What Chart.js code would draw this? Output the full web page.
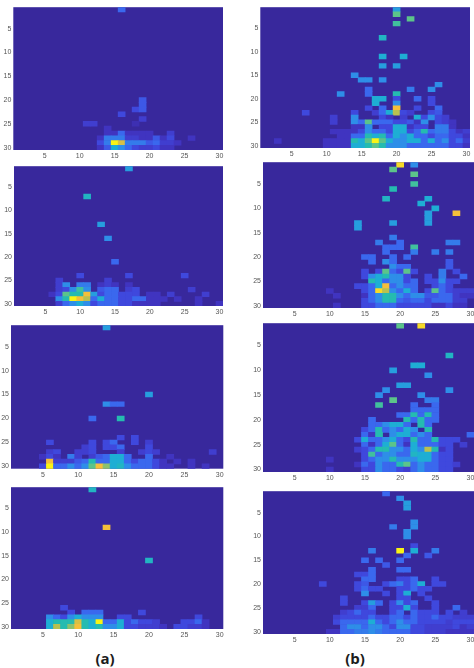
<!DOCTYPE html>
<html>
<head>
<meta charset="utf-8">
<style>
	html, body { margin: 0; padding: 0; background: #fff; width: 474px; height: 668px; overflow: hidden; }
	canvas { position: absolute; filter: blur(0.4px); }
	.caption { position: absolute; top: 648px; width: 40px; text-align: center; font: bold 15px "Open Sans", sans-serif; color: #1c1c1c; }
</style>
<script src="https://cdn.jsdelivr.net/npm/chart.js@4/dist/chart.umd.min.js"></script>
</head>
<body>
<div class="caption" style="left:85px">(a)</div>
<div class="caption" style="left:335px">(b)</div>
<script>
// each entry: [row, first column, values going right], 0 = background
var cellsA1 = [
	[1,16,[3]],[20,19,[2.5]],[21,19,[2.5]],[22,18,[2,2.5]],[23,16,[2]],[24,19,[1.5]],[25,11,[1.5,1.5]],[25,18,[0.6]],
	[26,14,[1]],[27,14,[1,1,3,1,1,1,1]],[27,23,[1.5]],
	[28,13,[1,3.5,3.5,3.5,1.5,1.5,1,1,2.5,1,2]],[28,26,[1]],
	[29,13,[2,3.5,10,8.5,3.5,3.5,3.5,2.5,3,1.5,1.5,1]],
	[30,13,[1,2.5,5,4,3,2,1.5,1.5,2,1,1]]
];
var cellsB1 = [
	[1,20,[4.5]],[2,20,[7]],[3,22,[7]],[4,20,[6.5]],[7,18,[5.5]],[11,18,[5]],[11,21,[5]],[13,18,[4.5]],[13,20,[4.5]],
	[15,14,[4]],[16,15,[4,4]],[16,18,[4]],[17,26,[4]],[18,16,[3]],[18,22,[3.5]],[18,25,[4]],
	[19,12,[4]],[19,16,[3]],[19,20,[6]],[20,17,[5,5]],[20,20,[2]],[20,23,[3]],[20,25,[2]],
	[21,17,[5]],[21,20,[4]],[21,25,[2]],[22,16,[2]],[22,18,[3]],[22,20,[9]],[22,23,[2]],[22,26,[3]],
	[23,7,[2]],[23,14,[2]],[23,17,[1.5,3,5,8,2,1.5]],[23,25,[2,2.5]],
	[24,11,[1.5]],[24,14,[4]],[24,18,[2,1]],[24,21,[1.5]],[24,23,[5,2,4,2,1.5]],
	[25,11,[1.5]],[25,14,[4,3,7,3,3,3,2,2,2.5,1,4]],[25,26,[2,1.5,1]],
	[26,14,[1,1,4,0,2,2,5,5,1,2,2,0,3.5,3.5,1]],
	[27,11,[1,1,1,1,2,4,3,3,2,5,5,2,3,6,3,3.5,3.5,2,1,1.5]],
	[28,12,[1,1,3,3,6,5,6,3,5,4,5,3,3,2,3,3,2,2,1]],
	[29,3,[1]],[29,10,[1,1,1,1,6,5,7,10,7,5,4,4,5,5,3,5,3,4,2,3,1.5]],
	[30,10,[1,1,1,1,5,5,6,7,6,4,4,4,3,3,3,3,3,3,2,2,1]]
];
var cellsA2 = [
	[1,17,[4.5]],[7,11,[5.5]],[13,13,[4.5]],[16,14,[4]],[21,15,[3]],[24,10,[2]],[24,17,[2]],[24,25,[2]],
	[25,7,[1.5]],[25,14,[1.5]],[26,7,[1.5,4,0,3.5,3.5,0,1,1.5,1,0,1]],
	[27,7,[1.5,2,4,6.5,4,0,2.5,3,3,0,1.5,2]],[27,26,[1.5]],
	[28,6,[1,2,7,6,6,9,4.5,2,3,3,2,2,2]],[28,20,[1,1]],[28,23,[1.5]],[28,28,[1.5]],
	[29,7,[4,6,10,9,8,3,5,3,3,2,2,3,3,1,1,1]],[29,24,[1]],[29,27,[1]],
	[30,7,[1.5,3,4,5,4,2,3,3,3,2,2,1,1,1,1]],[30,27,[1]],[30,30,[1]]
];
var cellsB2 = [
	[1,20,[9.5]],[1,22,[4]],[2,19,[7]],[3,22,[7]],[5,22,[6.5]],[6,19,[6]],[8,18,[5.5]],[8,24,[5]],[9,23,[5]],[10,25,[5]],
	[11,24,[4.5]],[11,28,[9]],[12,24,[4.5]],[13,14,[4.5]],[13,19,[4.5]],[13,24,[4.5]],[14,14,[4.5]],[16,19,[3.5]],
	[17,17,[3.5]],[17,20,[3]],[17,27,[3.5,3.5]],[18,18,[3,3,3]],[18,22,[6.5]],[19,18,[3]],[19,22,[3.5]],[19,25,[3.5]],[19,27,[3.5]],
	[20,15,[3,3]],[20,19,[3]],[20,21,[3]],[21,16,[3]],[21,18,[4,3]],[21,27,[2.5]],[22,19,[4,3,3]],[22,27,[2.5]],
	[23,15,[2,0,2,7,3,2,7,2]],[23,26,[3.5]],[23,28,[2]],
	[24,15,[2,4,5,6,4,4,2]],[24,24,[2,0,3.5]],[24,29,[3]],
	[25,16,[6,5,3,4,4,2,3,0,2,2,4,2,2]],
	[26,14,[2,2,3,5,9,3,4,3,3,0,0,2,3,2]],
	[27,10,[1]],[27,15,[2,3,9.5,8,4,3,5,3,0,2,7,3,2,1.5,1.5,1.5]],
	[28,11,[1]],[28,15,[1,3,4,6,6,4,3,4,4,2.5,2.5,3,3,1.5,1,1]],
	[29,15,[2,3,4,6,6,3,2.5,3,3,2,3,3,3,1.5,1.5]],
	[30,11,[1]],[30,15,[2,2,3,3,3,2,2,2,2,2,1,1,2,1,1]]
];
var cellsA3 = [
	[1,14,[4.5]],[15,20,[4.5]],[17,14,[4,3,3]],[20,12,[3]],[20,16,[6]],[24,16,[2]],[24,18,[2]],
	[25,6,[2]],[25,12,[2]],[25,14,[2,3]],[25,18,[2]],[25,20,[1.5]],
	[26,11,[1.5,2]],[26,14,[2,2,3]],[26,20,[2]],
	[27,6,[1.5,2]],[27,10,[1.5,1.5,2]],[27,16,[1.5]],[27,19,[1.5,2,1.5]],[27,29,[1.5]],
	[28,5,[1,2,1,0,3.5,1.5,0,1.5,2.5,3,5,5,3]],[28,20,[3]],[28,23,[1]],
	[29,6,[9,1.5,1.5,1.5,2.5,3,6,3,3,5,5,3,2,3,3,2,1]],[29,24,[1]],[29,26,[1]],
	[30,5,[2,10,3,3,4,3,4,7,9,7.5,5,5.5,4,3,3,3,2,1,1]],[30,26,[1]],[30,28,[1]]
];
var cellsB3 = [
	[1,20,[7]],[1,23,[9.5]],[7,27,[5.5]],[9,22,[5,5]],[10,19,[4.5]],[11,24,[4]],[13,20,[4.5,4.5]],[14,18,[4]],[14,27,[4]],
	[15,17,[4]],[15,23,[4]],[16,19,[7]],[16,24,[3.5,3.5]],[17,17,[6.5]],[17,22,[3]],[17,25,[3]],[18,22,[3,3,3,3]],
	[19,20,[3,3,6,3,6,3]],[20,16,[3]],[20,21,[6,3,6,3,3]],
	[21,16,[3,3,4,5,5,3,0,6,3]],[22,15,[2,3,6,3,4,3,5,4,0,6]],
	[23,15,[3,1,6,0,4,5,5,3,4,3]],[23,30,[3]],
	[24,14,[2,5,3,3,4,5,3,2,6,3,3,6,2,2,2]],
	[25,15,[3,1,3,5,7,3,1,5,3,3,3,2,2,0,1.5]],
	[26,14,[1.5,2,3,6,6,4,4,3,5,4,8,6,1,2]],
	[27,15,[2,6.5,3,4,4,3,3,5.5,5,5,3,2,2]],
	[28,10,[1]],[28,15,[2,3,4,4,6,4,4,4,5,5,3,2,2]],
	[29,14,[1,3,2,4,3,3,6,7,3,4,3,3,2,2,1.5]],
	[30,10,[1]],[30,15,[2,2,4,3,3,2,1.5,3,4,3,3,2,2]]
];
var cellsA4 = [
	[1,12,[5.5]],[9,14,[9]],[16,20,[5.5]],[26,8,[2]],[27,9,[2]],[27,11,[3,3,3]],[27,19,[2]],
	[28,6,[4,3,2,4,5,4,4,4]],[28,16,[2,2]],[28,27,[2]],
	[29,6,[5,6,6,6,8.5,6,5,10,3,3,5,2,3,2,2,1.5]],[29,25,[2,2,3,1]],
	[30,6,[5,8,6,7.5,9,6,5,6,4,4,5,2,2,1.5,1.5,1.5,1]],[30,24,[2,2,1.5,1.5,1]]
];
var cellsB4 = [
	[1,18,[3]],[2,20,[4]],[3,21,[4.5]],[4,21,[4.5]],[7,22,[4]],[8,19,[3.5]],[8,22,[4]],[9,21,[4]],[10,21,[4]],[12,22,[2]],
	[13,16,[3.5]],[13,20,[10]],[13,22,[5]],[13,25,[3.5]],[14,21,[3]],[14,24,[2.5]],[15,15,[3]],[15,17,[3]],[15,20,[3]],[16,18,[2.5]],
	[17,16,[3]],[17,20,[3,3]],[18,14,[2,2,3]],[19,15,[3,3]],[19,20,[2,2,3]],[19,25,[2]],
	[20,9,[2]],[20,14,[2,2.5]],[20,18,[2,3,3.5,2,3,5]],[20,25,[2,2]],
	[21,14,[2,3,2,2]],[21,20,[2,2,3,2,2]],[22,15,[4]],[22,18,[2]],[22,20,[2,5]],[22,23,[2]],
	[23,12,[2]],[23,20,[2,2]],[23,24,[2]],[24,12,[2]],[24,15,[2,4.5,3]],[24,19,[2,4,2,3]],[24,25,[2]],
	[25,14,[1.5,1.5,3]],[25,19,[2,2,5,2]],[25,25,[2]],[25,28,[3]],
	[26,12,[1.5,2,3,2,2]],[26,19,[2,3,0,3,2,2,2]],[26,27,[2]],[26,29,[1.5]],
	[27,11,[1.5,2,2,2,2,3,2,2,3,3,2,3,2,2,3,2,2,1.5,1.5,1.5]],
	[28,11,[2,3,3,3,3,5,3,2,3,4,3,3,2,2,2,2,1.5,2,2,2]],
	[29,12,[3,4,4,3,4,4,3,2,4,4,2,2,1.5,1.5,1.5,1.5,2,1,1.5]],
	[30,10,[1,1,3,3,3.5,3.5,4,3.5,3,3,3,3,2,2,1.5,1.5,1.5,1,1,1,1]]
];
var panelCells = [cellsA1, cellsB1, cellsA2, cellsB2, cellsA3, cellsB3, cellsA4, cellsB4];
var xLabels = [];
for (var i = 1; i <= 30; i++) xLabels.push(String(i));
var yTicks = [5, 10, 15, 20, 25, 30];

// plot area of each panel: left, top, right, bottom
var boxes = [
	[13.3, 1, 223, 150], [260.3, 1.6, 470, 148],
	[14, 160, 223, 306], [263, 156.7, 474, 308],
	[11, 319.7, 223.3, 468.7], [263, 317.3, 474, 472],
	[11, 481.3, 223.3, 629], [263, 485.5, 474, 634]
];

// parula-like ramp, level 0 to 10
var ramp = [[56,40,156],[64,52,192],[63,72,221],[58,104,238],[46,142,232],[30,174,212],[37,187,176],[92,196,138],[185,192,80],[244,191,58],[249,244,21]];
function levelColor(v) {
	var i = Math.min(Math.floor(v), 9), t = v - i;
	var a = ramp[i], b = ramp[i + 1];
	return 'rgb(' + Math.round(a[0] + (b[0] - a[0]) * t) + ',' + Math.round(a[1] + (b[1] - a[1]) * t) + ',' + Math.round(a[2] + (b[2] - a[2]) * t) + ')';
}

var panelBackground = {
	id: 'panelBackground',
	beforeDatasetsDraw: function (chart) {
		var a = chart.chartArea;
		chart.ctx.save();
		chart.ctx.fillStyle = levelColor(0);
		chart.ctx.fillRect(a.left, a.top, a.right - a.left, a.bottom - a.top);
		chart.ctx.restore();
	}
};

panelCells.forEach(function (cells, p) {
	var box = boxes[p];
	var points = [], colors = [];
	cells.forEach(function (run) {
		run[2].forEach(function (v, k) {
			if (!v) return;
			points.push({ x: String(run[1] + k), y: [run[0] - 0.5, run[0] + 0.5] });
			colors.push(levelColor(v));
		});
	});

	var canvasLeft = Math.floor(box[0]) - 22;
	var canvasTop = Math.floor(box[1]);
	if (canvasLeft < 0) canvasLeft = 0;
	var canvas = document.createElement('canvas');
	canvas.width = Math.ceil(box[2]) + 14 - canvasLeft;
	canvas.height = Math.ceil(box[3]) + 16 - canvasTop;
	canvas.style.left = canvasLeft + 'px';
	canvas.style.top = canvasTop + 'px';
	document.body.appendChild(canvas);

	new Chart(canvas.getContext('2d'), {
		type: 'bar',
		data: {
			labels: xLabels,
			datasets: [{ data: points, backgroundColor: colors, borderWidth: 0, barPercentage: 1, categoryPercentage: 1 }]
		},
		plugins: [panelBackground],
		options: {
			responsive: false,
			animation: false,
			layout: { padding: { top: box[1] - canvasTop, right: canvas.width - (box[2] - canvasLeft), left: 0, bottom: 0 } },
			plugins: { legend: { display: false }, tooltip: { enabled: false }, title: { display: false } },
			scales: {
				x: {
					type: 'category',
					offset: true,
					grid: { display: false, drawTicks: false },
					border: { display: false },
					ticks: {
						autoSkip: false,
						maxRotation: 0,
						padding: 2,
						color: '#555',
						font: { family: 'Liberation Sans', size: 7 },
						callback: function (val) {
							var n = val + 1;
							return n % 5 === 0 ? String(n) : '';
						}
					},
					afterFit: function (scale) {
						scale.height = canvas.height - (box[3] - canvasTop);
					}
				},
				y: {
					type: 'linear',
					reverse: true,
					min: 0.5,
					max: 30.5,
					grid: { display: false, drawTicks: false },
					border: { display: false },
					afterBuildTicks: function (scale) {
						scale.ticks = yTicks.map(function (t) { return { value: t }; });
					},
					ticks: {
						padding: 2,
						color: '#555',
						font: { family: 'Liberation Sans', size: 7 },
						callback: function (val) { return String(val); }
					},
					afterFit: function (scale) {
						scale.width = box[0] - canvasLeft;
					}
				}
			}
		}
	});
});
</script>
</body>
</html>
